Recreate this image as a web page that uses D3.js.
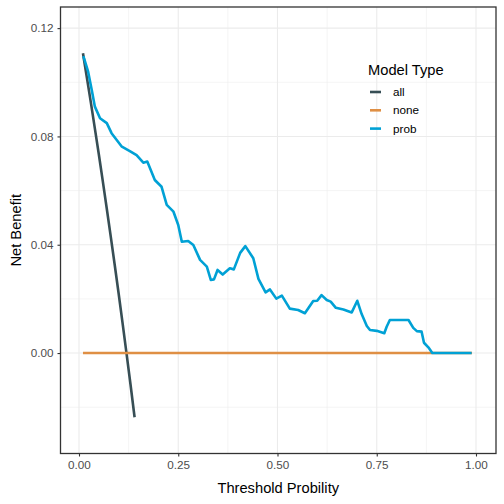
<!DOCTYPE html>
<html>
<head>
<meta charset="utf-8">
<script src="https://cdn.jsdelivr.net/npm/d3@7"></script>
<style>
  body { margin: 0; background: #fff; }
  text { font-family: "Liberation Sans", Arial, sans-serif; }
</style>
</head>
<body>
<svg id="chart" width="504" height="504"></svg>
<script>
// values
const models = ['all', 'none', 'prob'];
const modelColors = ['#374E55', '#DF8F44', '#00A1D5'];

const allThreshold = [0.01, 0.02, 0.03, 0.04, 0.05, 0.06, 0.07, 0.08, 0.09, 0.10, 0.11, 0.12, 0.13, 0.14];
const allBenefit = [0.1107, 0.1016, 0.0924, 0.0829, 0.0733, 0.0634, 0.0533, 0.0430, 0.0325, 0.0218, 0.0108, -0.0005, -0.0119, -0.0237];

const noneThreshold = [0.01, 0.99];
const noneBenefit = [0, 0];

const probThreshold = [0.011, 0.023, 0.032, 0.040, 0.053, 0.070, 0.082, 0.095, 0.108, 0.128, 0.145, 0.162, 0.172,
  0.191, 0.208, 0.221, 0.238, 0.250, 0.259, 0.275, 0.288, 0.305, 0.322, 0.332, 0.340, 0.349, 0.362, 0.380, 0.390,
  0.406, 0.419, 0.439, 0.452, 0.470, 0.481, 0.497, 0.511, 0.531, 0.552, 0.569, 0.590, 0.600, 0.611, 0.624, 0.634,
  0.647, 0.666, 0.687, 0.701, 0.712, 0.725, 0.733, 0.750, 0.769, 0.775, 0.783, 0.830, 0.842, 0.851, 0.863, 0.869,
  0.880, 0.890, 0.989];
const probBenefit = [0.1097, 0.1039, 0.0972, 0.0910, 0.0867, 0.0849, 0.0812, 0.0787, 0.0762, 0.0746, 0.0731, 0.0703, 0.0707,
  0.0639, 0.0614, 0.0547, 0.0522, 0.0473, 0.0411, 0.0414, 0.0399, 0.0344, 0.0319, 0.0270, 0.0272, 0.0307, 0.0290, 0.0313, 0.0309,
  0.0370, 0.0395, 0.0350, 0.0274, 0.0224, 0.0235, 0.0201, 0.0212, 0.0164, 0.0159, 0.0147, 0.0192, 0.0193, 0.0214, 0.0196, 0.0190,
  0.0167, 0.0161, 0.0150, 0.0193, 0.0144, 0.0100, 0.0085, 0.0082, 0.0073, 0.0097, 0.0122, 0.0122, 0.0093, 0.0081, 0.0079, 0.0038,
  0.0021, 0, 0];

const xTicks = [0, 0.25, 0.5, 0.75, 1];
const xMinor = [0.125, 0.375, 0.625, 0.875];
const yTicks = [0, 0.04, 0.08, 0.12];
const yMinor = [-0.02, 0.02, 0.06, 0.10];

const series = [
  { key: 'all', xs: allThreshold, ys: allBenefit },
  { key: 'none', xs: noneThreshold, ys: noneBenefit },
  { key: 'prob', xs: probThreshold, ys: probBenefit }
];

const panel = { left: 60.5, right: 496, top: 7, bottom: 453.5 };

const svg = d3.select('#chart');
const color = d3.scaleOrdinal().domain(models).range(modelColors);

const xScale = d3.scaleLinear()
  .domain([-0.0466, 1.0504])
  .range([panel.left, panel.right]);
const yScale = d3.scaleLinear()
  .domain([-0.0371, 0.1278])
  .range([panel.bottom, panel.top]);

// grid lines
const grid = svg.append('g').attr('class', 'grid');
grid.selectAll('.x-minor').data(xMinor).join('line')
  .attr('x1', d => xScale(d)).attr('x2', d => xScale(d))
  .attr('y1', panel.top).attr('y2', panel.bottom)
  .attr('stroke', '#EBEBEB').attr('stroke-width', 0.55);
grid.selectAll('.y-minor').data(yMinor).join('line')
  .attr('y1', d => yScale(d)).attr('y2', d => yScale(d))
  .attr('x1', panel.left).attr('x2', panel.right)
  .attr('stroke', '#EBEBEB').attr('stroke-width', 0.55);
grid.selectAll('.x-major').data(xTicks).join('line')
  .attr('x1', d => xScale(d)).attr('x2', d => xScale(d))
  .attr('y1', panel.top).attr('y2', panel.bottom)
  .attr('stroke', '#EBEBEB').attr('stroke-width', 1.1);
grid.selectAll('.y-major').data(yTicks).join('line')
  .attr('y1', d => yScale(d)).attr('y2', d => yScale(d))
  .attr('x1', panel.left).attr('x2', panel.right)
  .attr('stroke', '#EBEBEB').attr('stroke-width', 1.1);

// lines
const line = d3.line()
  .x(d => xScale(d[0]))
  .y(d => yScale(d[1]));

svg.append('g').attr('class', 'lines')
  .selectAll('path')
  .data(series)
  .join('path')
  .attr('d', s => line(s.xs.map((x, i) => [x, s.ys[i]])))
  .attr('fill', 'none')
  .attr('stroke', s => color(s.key))
  .attr('stroke-width', 2.6)
  .attr('stroke-linejoin', 'round');

// panel border
svg.append('rect')
  .attr('x', panel.left).attr('y', panel.top)
  .attr('width', panel.right - panel.left)
  .attr('height', panel.bottom - panel.top)
  .attr('fill', 'none')
  .attr('stroke', '#333333')
  .attr('stroke-width', 1.3);

// axes
const xAxis = d3.axisBottom(xScale).tickValues(xTicks).tickFormat(d3.format('.2f')).tickSize(3).tickPadding(4);
const gx = svg.append('g')
  .attr('transform', `translate(0,${panel.bottom})`)
  .call(xAxis);
const yAxis = d3.axisLeft(yScale).tickValues(yTicks).tickFormat(d3.format('.2f')).tickSize(3).tickPadding(4);
const gy = svg.append('g')
  .attr('transform', `translate(${panel.left},0)`)
  .call(yAxis);
[gx, gy].forEach(g => {
  g.select('.domain').remove();
  g.selectAll('.tick line').attr('stroke', '#333333').attr('stroke-width', 1.1);
  g.selectAll('.tick text')
    .attr('fill', '#4D4D4D')
    .style('font-size', '11.7px')
    .style('font-family', '"Liberation Sans", Arial, sans-serif');
});

// axis titles
svg.append('text')
  .attr('x', (panel.left + panel.right) / 2)
  .attr('y', 493)
  .attr('text-anchor', 'middle')
  .style('font-size', '14.7px')
  .text('Threshold Probility');
svg.append('text')
  .attr('transform', `translate(21,${(panel.top + panel.bottom) / 2}) rotate(-90)`)
  .attr('text-anchor', 'middle')
  .style('font-size', '14.7px')
  .text('Net Benefit');

// legend
const legend = svg.append('g').attr('transform', 'translate(368,75)');
legend.append('text')
  .attr('x', 0).attr('y', 0)
  .style('font-size', '14.7px')
  .text('Model Type');
const items = legend.selectAll('.legend-item')
  .data(models)
  .join('g')
  .attr('class', 'legend-item')
  .attr('transform', (d, i) => `translate(0,${17 + i * 18.3})`);
items.append('line')
  .attr('x1', 2).attr('x2', 13)
  .attr('stroke', d => color(d))
  .attr('stroke-width', 2.6);
items.append('text')
  .attr('x', 25).attr('y', 0)
  .attr('dy', '0.35em')
  .style('font-size', '11.7px')
  .text(d => d);
</script>
</body>
</html>
